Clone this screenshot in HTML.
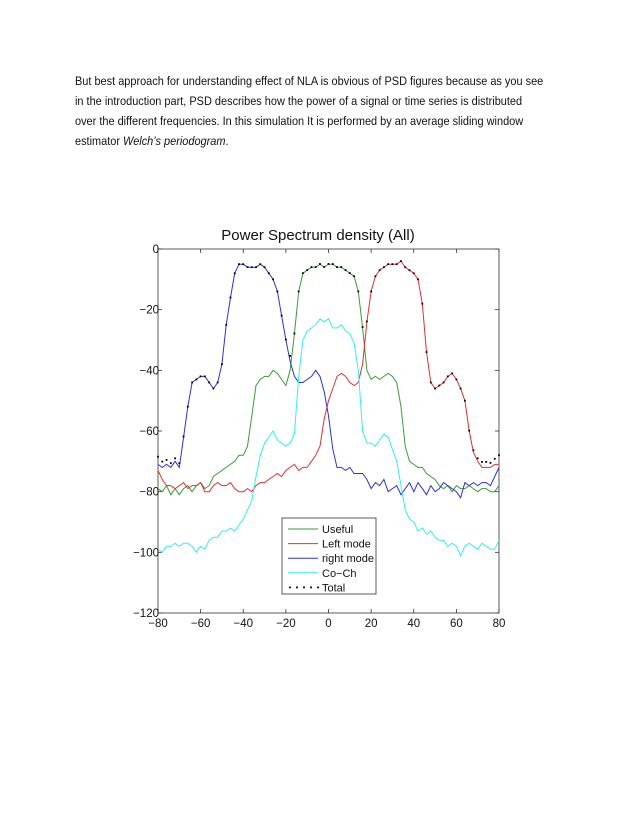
<!DOCTYPE html>
<html><head><meta charset="utf-8"><style>
body{margin:0;background:#fff;width:638px;height:826px;overflow:hidden;font-family:"Liberation Sans",sans-serif}
.p{position:absolute;left:75px;font-size:12.3px;color:#111;white-space:nowrap;transform:scaleX(0.89);transform-origin:0 0}
</style></head><body>
<div>
<div class="p" style="top:74px">But best approach for understanding effect of NLA is obvious of PSD figures because as you see</div>
<div class="p" style="top:94px">in the introduction part, PSD describes how the power of a signal or time series is distributed</div>
<div class="p" style="top:114px">over the different frequencies. In this simulation It is performed by an average sliding window</div>
<div class="p" style="top:134px">estimator <i>Welch’s periodogram</i>.</div>
</div>
<svg id="chart" width="638" height="826" style="position:absolute;left:0;top:0" xmlns="http://www.w3.org/2000/svg"></svg>
<script>
const xs=[];for(let i=-80;i<=80;i+=2)xs.push(i);
const xTicks=[-80,-60,-40,-20,0,20,40,60,80];
const yTicks=[0,-20,-40,-60,-80,-100,-120];
const useful=[-79,-80,-78,-81,-79,-81,-79,-78,-80,-78,-77,-79,-78,-75,-74,-73,-72,-71,-70,-68,-68,-65,-55,-45,-43,-42,-42,-40,-41,-43,-45,-40,-28,-14,-8,-7,-6,-6,-5,-6,-5,-5,-6,-6,-7,-8,-9,-14,-26,-40,-43,-42,-43,-42,-41,-42,-44,-52,-65,-70,-71,-72,-72,-74,-75,-76,-78,-79,-78,-80,-78,-79,-79,-78,-79,-80,-79,-79,-80,-80,-78];
const leftMode=[-73,-76,-78,-78,-79,-78,-77,-79,-78,-78,-77,-80,-80,-78,-77,-78,-78,-77,-79,-80,-80,-79,-80,-78,-77,-77,-76,-75,-74,-75,-73,-72,-71,-73,-72,-72,-70,-68,-65,-56,-50,-46,-42,-41,-42,-44,-45,-44,-38,-24,-14,-9,-7,-6,-5,-5,-5,-4,-6,-7,-8,-10,-18,-34,-44,-46,-45,-44,-42,-41,-43,-46,-50,-60,-67,-70,-72,-72,-72,-71,-71];
const rightMode=[-71,-72,-71,-72,-70,-72,-62,-52,-44,-43,-42,-42,-44,-46,-44,-38,-25,-16,-8,-5,-5,-6,-6,-6,-5,-6,-8,-10,-14,-22,-30,-37,-42,-44,-44,-43,-42,-40,-42,-47,-55,-66,-72,-72,-73,-72,-74,-74,-74,-76,-79,-77,-78,-76,-80,-79,-78,-81,-79,-77,-80,-77,-79,-81,-78,-80,-79,-77,-78,-79,-80,-82,-77,-78,-77,-78,-77,-77,-78,-75,-72];
const coCh=[-99,-100,-98,-98,-97,-98,-97,-97,-98,-100,-98,-99,-96,-95,-95,-93,-93,-92,-93,-91,-89,-86,-83,-75,-68,-64,-62,-60,-63,-64,-65,-64,-61,-42,-30,-27,-26,-25,-23,-24,-23,-26,-26,-25,-27,-28,-31,-40,-60,-64,-64,-65,-63,-61,-62,-66,-70,-78,-86,-89,-90,-93,-92,-94,-93,-95,-96,-96,-98,-97,-98,-101,-98,-97,-98,-99,-97,-98,-99,-99,-96];
const NS="http://www.w3.org/2000/svg";
const svg=document.getElementById('chart');
const X0=158,X1=499,Y0=249,Y1=613;
const sx=v=>X0+(v+80)/160*(X1-X0);
const sy=v=>Y0+(0-v)/120*(Y1-Y0);
function el(t,a,p){const e=document.createElementNS(NS,t);for(const k in a)e.setAttribute(k,a[k]);(p||svg).appendChild(e);return e;}
const title=el('text',{x:318,y:240,'text-anchor':'middle','font-size':15,fill:'#111'});


title.textContent='Power Spectrum density (All)';
const frame=el('rect',{x:X0,y:Y0,width:X1-X0,height:Y1-Y0,fill:'none',stroke:'#333','stroke-width':0.8});


xTicks.forEach(t=>{
  el('line',{x1:sx(t),x2:sx(t),y1:Y1,y2:Y1-4,stroke:'#333','stroke-width':0.8});
  el('line',{x1:sx(t),x2:sx(t),y1:Y0,y2:Y0+4,stroke:'#333','stroke-width':0.8});
  const l=el('text',{x:sx(t),y:Y1+14,'text-anchor':'middle','font-size':11.5,fill:'#111'});
  
  
  l.textContent=(t<0?'\u2212'+(-t):t);
});
yTicks.forEach(t=>{
  el('line',{x1:X0,x2:X0+4,y1:sy(t),y2:sy(t),stroke:'#333','stroke-width':0.8});
  el('line',{x1:X1,x2:X1-4,y1:sy(t),y2:sy(t),stroke:'#333','stroke-width':0.8});
  const l=el('text',{x:X0+1,y:sy(t)+4,'text-anchor':'end','font-size':11.5,fill:'#111'});
  
  
  l.textContent=(t<0?'\u2212'+(-t):t);
});
function line(arr,col,name){
  const d=arr.map((v,i)=>(i?'L':'M')+sx(xs[i]).toFixed(1)+','+sy(v).toFixed(1)).join('');
  const p=el('path',{d:d,fill:'none',stroke:col,'stroke-width':1});
  
  
}
line(useful,'#3a9a3a','series-useful');
line(leftMode,'#e03030','series-left-mode');
line(rightMode,'#3030d0','series-right-mode');
line(coCh,'#30f0f0','series-co-ch');
const g=el('g',{});


xs.forEach((x,i)=>{
  const tot=10*Math.log10([useful,leftMode,rightMode,coCh].reduce((s,a)=>s+Math.pow(10,a[i]/10),0));
  el('rect',{x:sx(x)-0.9,y:sy(tot)-0.9,width:1.8,height:1.8,fill:'#000'},g);
});
const lg=el('g',{});


el('rect',{x:282,y:518,width:94,height:76,fill:'#fff',stroke:'#333','stroke-width':0.8},lg);
const items=[['Useful','#3a9a3a'],['Left mode','#e03030'],['right mode','#3030d0'],['Co\u2212Ch','#30f0f0'],['Total','#000']];
items.forEach((it,i)=>{
  const y=529+i*14.6;
  if(i<4) el('line',{x1:288,x2:318,y1:y,y2:y,stroke:it[1],'stroke-width':1},lg);
  else [290,297,304,311,318].forEach(x=>el('rect',{x:x-0.9,y:y-0.9,width:1.8,height:1.8,fill:'#000'},lg));
  const t=el('text',{x:322,y:y+4,'font-size':11,fill:'#111'},lg);
  
  
  t.textContent=it[0];
});
</script>
</body></html>
